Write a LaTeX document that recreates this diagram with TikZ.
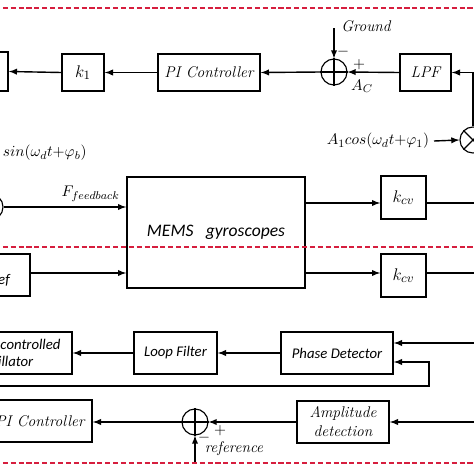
\documentclass[tikz,border=0pt]{standalone}
\usepackage{fontspec}
\newfontfamily\calib{Carlito}
\definecolor{sepred}{RGB}{214,30,62}
\tikzset{sz/.style 2 args={minimum width=#1*0.025cm,minimum height=#2*0.025cm}}

\begin{document}
\begin{tikzpicture}[x=0.025cm,y=-0.025cm,>=latex]
    % Serif italic text, one style per kind of element
    \tikzstyle{every node}=[font=\fontsize{11}{13.5}\selectfont\itshape]
    \tikzstyle{blk}=[draw,line width=1.2pt,inner sep=0pt,align=center,fill=white]
    \tikzstyle{gain}=[font=\fontsize{13}{15}\selectfont]
    \tikzstyle{sans}=[font=\calib\fontsize{10.5}{12}\selectfont\itshape]
    \tikzstyle{sumnode}=[draw,circle,line width=0.8pt,minimum size=26*0.025cm,inner sep=0pt,fill=white]
    \tikzstyle{sig}=[->,line width=1pt]
    \tikzstyle{sepline}=[sepred,line width=1.3pt,dash pattern=on 3.6pt off 2pt]

    % Frame of the picture
    \useasboundingbox (0,0) rectangle (474,474);
    \clip (0,0) rectangle (474,474);
    \fill[white] (0,0) rectangle (474,474);

    % Amplitude loop of the drive mode
    \node[blk,sz={48}{39}] (drv) at (-16,71.5) {};
    \node[blk,gain,sz={42}{37}] (k1) at (83,72.5) {$k_1$};
    \node[blk,sz={102}{37}] (pic1) at (209,72.5) {PI Controller};
    \node[sumnode] (sum1) at (334,72) {};
    \node[blk,sz={51}{37}] (lpf) at (425.5,72.5) {LPF};
    \node[sumnode] (mul1) at (473,140) {};
    \node[anchor=east] (acos) at (434,141) {$A_1cos(\omega_d t{+}\varphi_1)$};
    \node (gnd) at (366,26) {Ground};
    \coordinate (gndin) at (334,28);

    \draw[sig] (lpf.west) -- (sum1.east);
    \draw[sig] (sum1.west) -- (pic1.east);
    \draw[sig] (pic1.west) -- (k1.east);
    \draw[sig] (k1.west) -- (drv.east);
    \draw[sig] (gndin) -- (sum1.north);
    \draw[sig] (mul1.north) |- (lpf.east);
    \draw[sig] (acos.east) -- (mul1.west);

    \node (m1) at (343,52) {$-$};
    \node (p1) at (359,65) {$+$};
    \node (ac) at (362,86) {$A_C$};

    % Gyroscope with drive and sense pick-off
    \node[sumnode] (mul2) at (-10,207) {};
    \node[blk,sz={178}{111}] (mems) at (216,232.5) {\calib\fontsize{12.5}{14}\selectfont\itshape MEMS\hspace{0.7em}gyroscopes};
    \node[anchor=west] (bsin) at (-2,153) {$sin(\omega_d t{+}\varphi_b)$};
    \draw[sig] (mul2.east) -- node[pos=0.71,above] {$F_{feedback}$} (mems.west |- mul2.east);

    \coordinate (lv1) at (0,203);
    \coordinate (lv2) at (0,273);
    \coordinate (rv1) at (476,203);
    \coordinate (rv2) at (476,273);
    \node[blk,gain,sz={45}{43}] (kcv1) at (403.5,197.5) {$k_{cv}$};
    \node[blk,gain,sz={45}{43}] (kcv2) at (403.5,275.5) {$k_{cv}$};
    \draw[sig] (mems.east |- lv1) -- (kcv1.west |- lv1);
    \draw[line width=1pt] (kcv1.east |- lv1) -- (rv1);

    \node[blk,sz={70}{42}] (ref) at (-5,275) {};
    \node[sans] (reftxt) at (4,280) {ef};
    \draw[sig] (ref.east |- lv2) -- (mems.west |- lv2);
    \draw[sig] (mems.east |- lv2) -- (kcv2.west |- lv2);
    \draw[line width=1pt] (kcv2.east |- lv2) -- (rv2);

    % Phase locked loop
    \node[blk,sans,sz={132}{42}] (vco) at (6,353) {Voltage controlled\\oscillator};
    \node[blk,sans,sz={83}{42}] (lf) at (175.5,353) {Loop Filter};
    \node[blk,sans,sz={112}{42}] (pd) at (337,353) {Phase Detector};
    \draw[sig] (lf.west) -- (vco.east);
    \draw[sig] (pd.west) -- (lf.east);
    \coordinate (pdin) at (476,343);
    \draw[sig] (pdin) -- (pd.east |- pdin);
    \coordinate (fbl) at (-5,386);
    \coordinate (fbr) at (429,362);
    \draw[sig] (fbl) -| (fbr) -- (pd.east |- fbr);

    % Amplitude loop of the sense mode
    \node[blk,sz={104}{42}] (pic2) at (40,421) {PI Controller};
    \node[sumnode] (sum2) at (195,422) {};
    \node[blk,sz={92}{42}] (amp) at (343,422) {Amplitude\\detection};
    \coordinate (ampin) at (476,422);
    \coordinate (refin) at (195,463);
    \draw[sig] (sum2.west) -- (pic2.east |- sum2.west);
    \draw[sig] (amp.west) -- (sum2.east);
    \draw[sig] (ampin) -- (amp.east);
    \draw[sig] (refin) -- (sum2.south);
    \node (reflbl) at (234,449) {reference};
    \node (m2) at (204,438) {$-$};
    \node (p2) at (220,431) {$+$};

    % Crosses in the summing points and multipliers
    \foreach \s in {sum1,sum2}
        \draw[line width=0.8pt] (\s.north) -- (\s.south) (\s.west) -- (\s.east);
    \foreach \s in {mul1,mul2}
        \draw[line width=0.8pt] (\s.north west) -- (\s.south east) (\s.north east) -- (\s.south west);

    % Red dashed separators
    \foreach \y in {8,247,463}
        \draw[sepline] (-5,\y) -- (480,\y);
\end{tikzpicture}
\end{document}
